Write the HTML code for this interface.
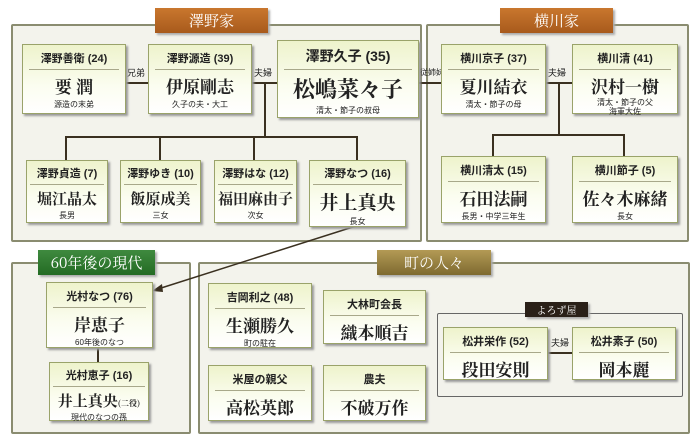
<!DOCTYPE html>
<html><head><meta charset="utf-8"><style>
body{margin:0;width:700px;height:447px;background:#fff;position:relative;overflow:hidden;font-family:"Liberation Sans","Noto Sans CJK JP",sans-serif;color:#222}
.p{position:absolute;border:2px solid #8a8c70;background:#f3f3ec;box-sizing:border-box;border-radius:2px}
.t{position:absolute;color:#fff;font-size:15px;text-align:center;box-sizing:border-box;box-shadow:2px 2px 2px #aaa;font-family:"Noto Serif CJK SC","Noto Sans CJK JP",serif}
.n{position:absolute;box-sizing:border-box;border:1px solid #9aa36a;background:linear-gradient(#eef3cc,#fbfdf0 60%,#fff);box-shadow:2px 2px 2px #999;text-align:center}
.h{font-size:11px;font-weight:bold;border-bottom:1px solid #a8a88a;margin:5px 6px 0;padding-bottom:3px;white-space:nowrap}
.m{font-size:17px;font-weight:bold;margin-top:3px;white-space:nowrap;font-family:"Noto Serif CJK SC","Noto Sans CJK JP",serif}
.s{font-size:8px;margin-top:2px;line-height:9px}
.l{position:absolute;background:#3a3020}
.lb{position:absolute;font-size:9px;background:#f3f3ec;line-height:10px}
</style></head><body>
<div class="p" style="left:11px;top:24px;width:411px;height:218px"></div>
<div class="p" style="left:426px;top:24px;width:263px;height:218px"></div>
<div class="p" style="left:11px;top:262px;width:180px;height:172px"></div>
<div class="p" style="left:198px;top:262px;width:492px;height:172px"></div>
<div class="p" style="left:437px;top:313px;width:246px;height:84px;border-width:1px;border-color:#666"></div>
<div class="t" style="left:155px;top:8px;width:113px;height:25px;line-height:25px;background:linear-gradient(#c9772e,#a85a1c)">澤野家</div>
<div class="t" style="left:500px;top:8px;width:113px;height:25px;line-height:25px;background:linear-gradient(#c9772e,#a85a1c)">横川家</div>
<div class="t" style="left:38px;top:250px;width:117px;height:25px;line-height:25px;background:linear-gradient(#3f8a3f,#236b23)">60年後の現代</div>
<div class="t" style="left:377px;top:250px;width:114px;height:25px;line-height:25px;background:linear-gradient(#b39a55,#7e6a30)">町の人々</div>
<div class="t" style="left:525px;top:302px;width:63px;height:15px;line-height:15px;font-size:10px;background:#2a2018">よろず屋</div>

<div class="l" style="left:125px;top:82px;width:24px;height:2px"></div>
<div class="l" style="left:251px;top:82px;width:27px;height:2px"></div>
<div class="l" style="left:418px;top:82px;width:24px;height:2px"></div>
<div class="l" style="left:545px;top:82px;width:28px;height:2px"></div>
<div class="l" style="left:264px;top:83px;width:2px;height:54px"></div>
<div class="l" style="left:65px;top:136px;width:293px;height:2px"></div>
<div class="l" style="left:65px;top:136px;width:2px;height:25px"></div>
<div class="l" style="left:159px;top:136px;width:2px;height:25px"></div>
<div class="l" style="left:253px;top:136px;width:2px;height:25px"></div>
<div class="l" style="left:356px;top:136px;width:2px;height:25px"></div>
<div class="l" style="left:558px;top:83px;width:2px;height:52px"></div>
<div class="l" style="left:492px;top:134px;width:133px;height:2px"></div>
<div class="l" style="left:492px;top:134px;width:2px;height:23px"></div>
<div class="l" style="left:623px;top:134px;width:2px;height:23px"></div>
<div class="l" style="left:97px;top:347px;width:2px;height:16px"></div>
<div class="l" style="left:547px;top:352px;width:26px;height:2px"></div>
<div class="lb" style="left:127px;top:68px">兄弟</div>
<div class="lb" style="left:254px;top:68px">夫婦</div>
<div class="lb" style="left:420px;top:68px;font-size:8px;background:none">従姉妹</div>
<div class="lb" style="left:548px;top:68px">夫婦</div>
<div class="lb" style="left:551px;top:338px">夫婦</div>
<svg style="position:absolute;left:0;top:0" width="700" height="447"><line x1="356" y1="226" x2="158" y2="289" stroke="#3a3020" stroke-width="1.5"/><polygon points="152,291 162,284 163,292" fill="#3a3020"/></svg>

<div class="n" style="left:22px;top:44px;width:104px;height:70px"><div class="h">澤野善衛 (24)</div><div class="m">要 潤</div><div class="s">源造の末弟</div></div>
<div class="n" style="left:148px;top:44px;width:104px;height:70px"><div class="h">澤野源造 (39)</div><div class="m">伊原剛志</div><div class="s">久子の夫・大工</div></div>
<div class="n" style="left:277px;top:40px;width:142px;height:78px"><div class="h" style="font-size:14px">澤野久子 (35)</div><div class="m" style="font-size:22px">松嶋菜々子</div><div class="s">清太・節子の叔母</div></div>
<div class="n" style="left:441px;top:44px;width:105px;height:70px"><div class="h">横川京子 (37)</div><div class="m">夏川結衣</div><div class="s">清太・節子の母</div></div>
<div class="n" style="left:572px;top:44px;width:106px;height:70px"><div class="h">横川清 (41)</div><div class="m">沢村一樹</div><div class="s" style="margin-top:0">清太・節子の父<br>海軍大佐</div></div>
<div class="n" style="left:26px;top:160px;width:82px;height:63px"><div class="h" style="margin:4px 3px 0">澤野貞造 (7)</div><div class="m" style="font-size:15px">堀江晶太</div><div class="s">長男</div></div>
<div class="n" style="left:120px;top:160px;width:81px;height:63px"><div class="h" style="margin:4px 3px 0">澤野ゆき (10)</div><div class="m" style="font-size:15px">飯原成美</div><div class="s">三女</div></div>
<div class="n" style="left:214px;top:160px;width:83px;height:63px"><div class="h" style="margin:4px 3px 0">澤野はな (12)</div><div class="m" style="font-size:15px">福田麻由子</div><div class="s">次女</div></div>
<div class="n" style="left:309px;top:160px;width:97px;height:67px"><div class="h" style="margin:4px 3px 0">澤野なつ (16)</div><div class="m" style="font-size:19px">井上真央</div><div class="s">長女</div></div>
<div class="n" style="left:441px;top:156px;width:105px;height:67px"><div class="h">横川清太 (15)</div><div class="m">石田法嗣</div><div class="s">長男・中学三年生</div></div>
<div class="n" style="left:572px;top:156px;width:106px;height:67px"><div class="h">横川節子 (5)</div><div class="m">佐々木麻緒</div><div class="s">長女</div></div>
<div class="n" style="left:46px;top:282px;width:107px;height:66px"><div class="h">光村なつ (76)</div><div class="m">岸恵子</div><div class="s">60年後のなつ</div></div>
<div class="n" style="left:49px;top:362px;width:100px;height:59px"><div class="h" style="margin:4px 3px 0">光村恵子 (16)</div><div class="m" style="font-size:15px">井上真央<span style="font-size:8px">(二役)</span></div><div class="s">現代のなつの孫</div></div>
<div class="n" style="left:208px;top:283px;width:104px;height:65px"><div class="h">吉岡利之 (48)</div><div class="m">生瀬勝久</div><div class="s">町の駐在</div></div>
<div class="n" style="left:323px;top:290px;width:103px;height:54px"><div class="h">大林町会長</div><div class="m">織本順吉</div></div>
<div class="n" style="left:208px;top:365px;width:104px;height:56px"><div class="h">米屋の親父</div><div class="m">高松英郎</div></div>
<div class="n" style="left:323px;top:365px;width:103px;height:56px"><div class="h">農夫</div><div class="m">不破万作</div></div>
<div class="n" style="left:443px;top:327px;width:105px;height:53px"><div class="h">松井栄作 (52)</div><div class="m">段田安則</div></div>
<div class="n" style="left:572px;top:327px;width:104px;height:53px"><div class="h">松井素子 (50)</div><div class="m">岡本麗</div></div>
</body></html>
